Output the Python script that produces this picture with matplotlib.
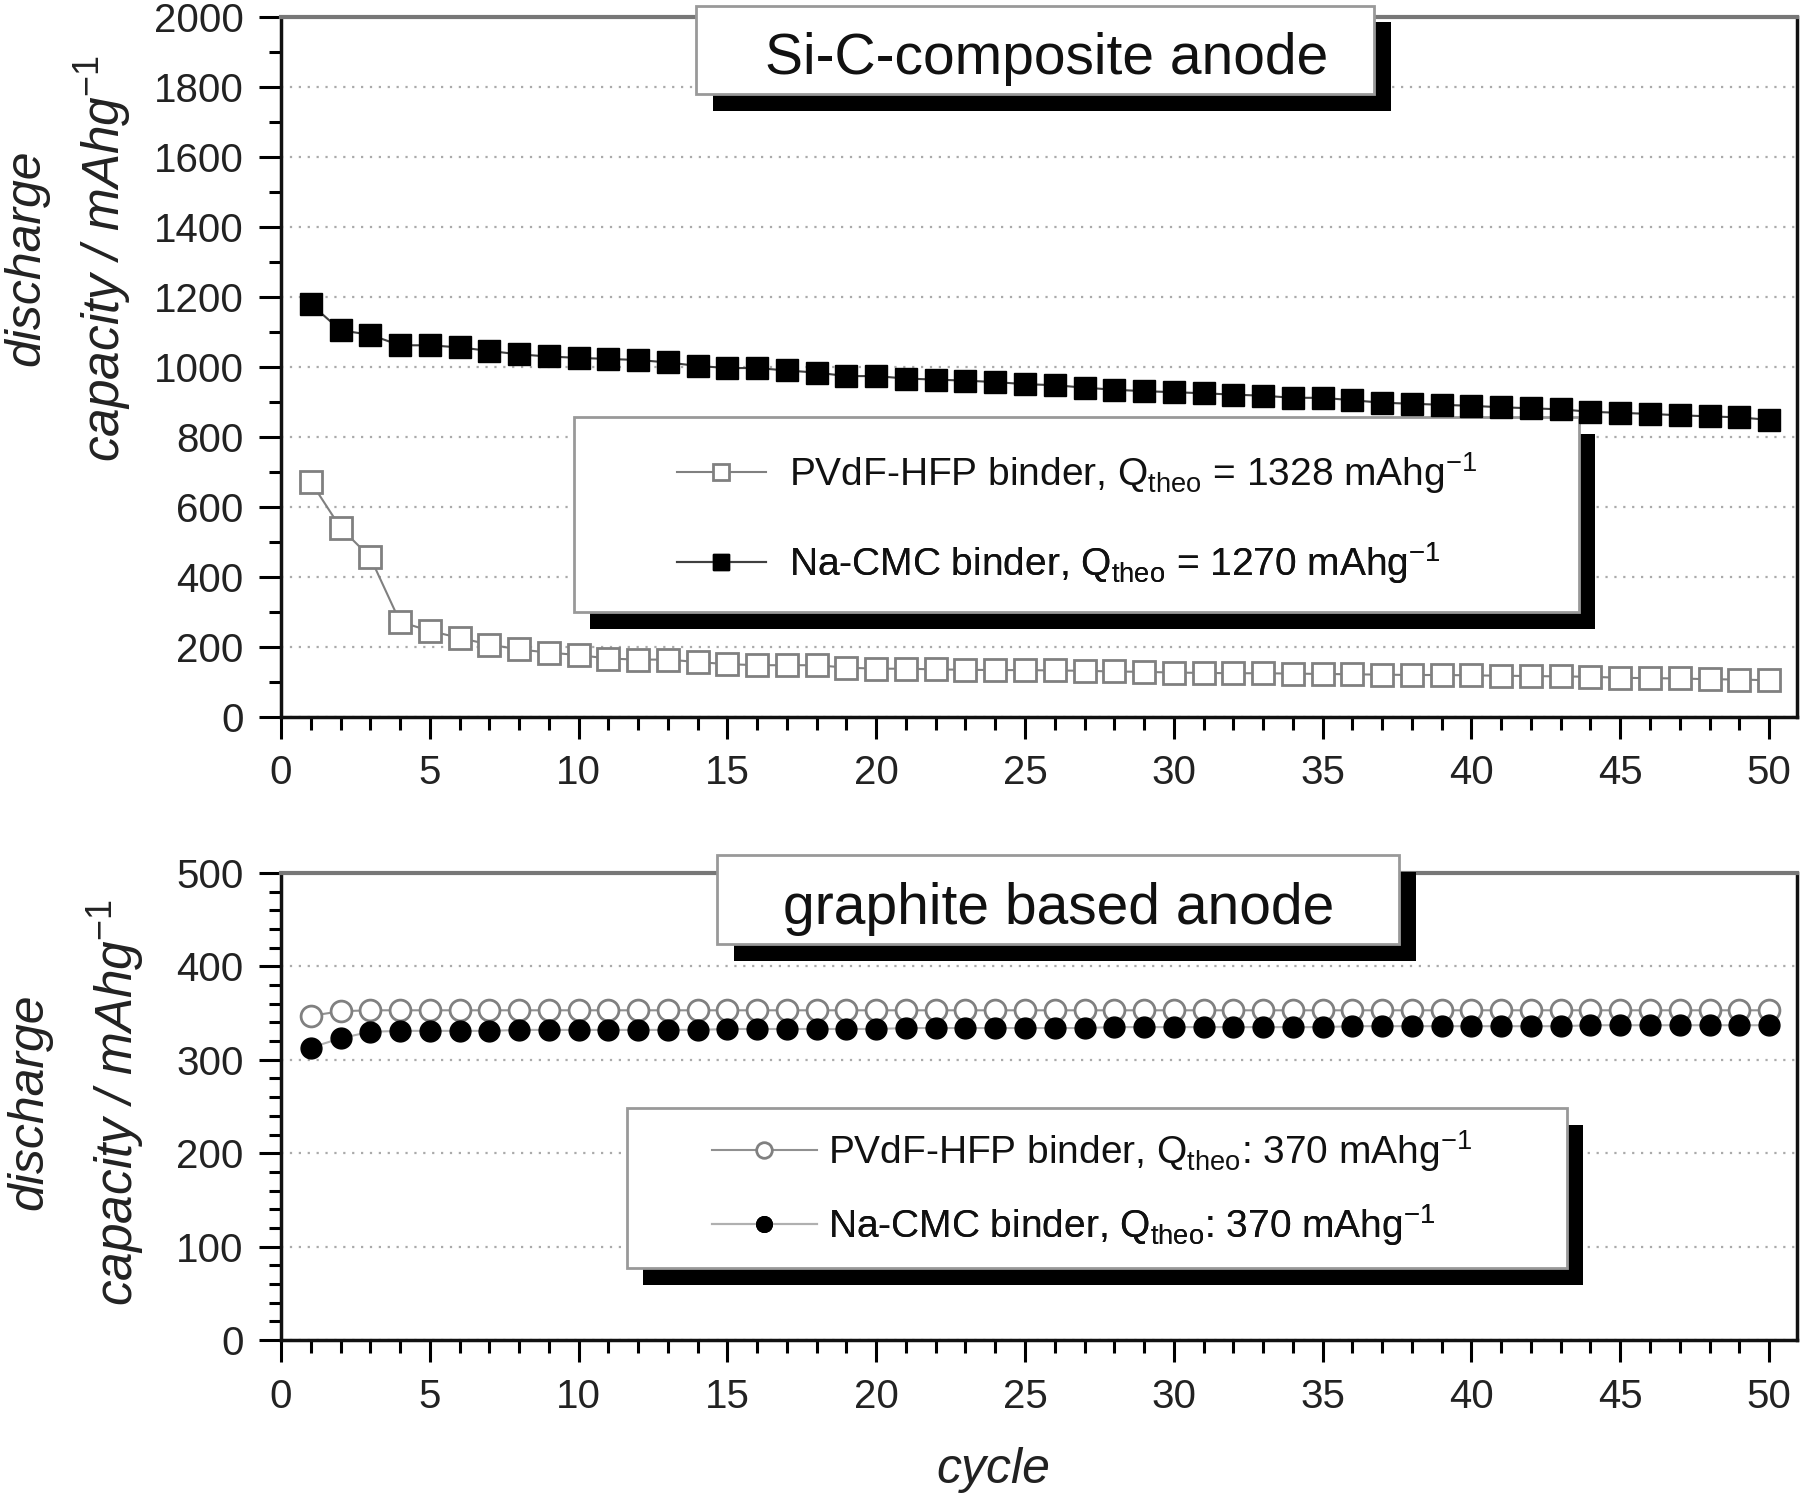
import matplotlib
matplotlib.use("Agg")
import matplotlib.pyplot as plt
from matplotlib.patches import Rectangle
from matplotlib.ticker import MultipleLocator
import matplotlib.patheffects as pe

plt.rcParams['font.family'] = ['Liberation Sans', 'DejaVu Sans']
plt.rcParams['mathtext.fontset'] = 'custom'
plt.rcParams['mathtext.rm'] = 'Liberation Sans'
plt.rcParams['mathtext.it'] = 'Liberation Sans:italic'

# ---------------- data ----------------
cycles = list(range(1, 51))

si_pvdf = [672, 541, 456, 272, 246, 226, 207, 193, 184, 177,
           167, 164, 164, 157, 151, 148, 148, 148, 141, 138,
           138, 136, 135, 134, 134, 133, 132, 130, 129, 127,
           126, 125, 125, 124, 123, 122, 121, 120, 120, 119,
           118, 117, 116, 115, 112, 111, 110, 108, 107, 105]
si_cmc = [1180, 1105, 1092, 1062, 1062, 1056, 1046, 1036, 1030, 1026,
          1023, 1020, 1013, 1003, 997, 997, 990, 984, 974, 974,
          967, 964, 961, 957, 951, 948, 941, 935, 931, 928,
          925, 921, 918, 912, 912, 905, 898, 895, 892, 889,
          885, 882, 879, 872, 869, 866, 862, 859, 856, 849]

gr_pvdf = [347, 352, 353, 353, 353, 353, 353, 353, 353, 353,
           353, 353, 353, 353, 353, 353, 353, 353, 353, 353,
           353, 353, 353, 353, 353, 353, 353, 353, 353, 353,
           353, 353, 353, 353, 353, 353, 353, 353, 353, 353,
           353, 353, 353, 353, 353, 353, 353, 353, 353, 353]
gr_cmc = [313, 323, 330, 331, 331, 331, 331, 332, 332, 332,
          332, 332, 332, 332, 333, 333, 333, 333, 333, 333,
          334, 334, 334, 334, 334, 334, 334, 335, 335, 335,
          335, 335, 335, 335, 335, 336, 336, 336, 336, 336,
          336, 336, 336, 337, 337, 337, 337, 337, 337, 337]

top_title = "Si-C-composite anode"
bot_title = "graphite based anode"
top_labels = [r"PVdF-HFP binder, Q$_{\mathrm{theo}}$ = 1328 mAhg$^{\mathrm{-1}}$",
              r"Na-CMC binder, Q$_{\mathrm{theo}}$ = 1270 mAhg$^{\mathrm{-1}}$"]
bot_labels = [r"PVdF-HFP binder, Q$_{\mathrm{theo}}$: 370 mAhg$^{\mathrm{-1}}$",
              r"Na-CMC binder, Q$_{\mathrm{theo}}$: 370 mAhg$^{\mathrm{-1}}$"]

W, H = 1800, 1495
fig = plt.figure(figsize=(W / 100, H / 100), dpi=100)
ax1 = fig.add_axes([281 / W, 1 - 717 / H, 1516 / W, 700 / H])
ax2 = fig.add_axes([281 / W, 1 - 1340 / H, 1516 / W, 467 / H])

GRAY = '#808080'
shadow = [pe.SimplePatchShadow(offset=(12, -12), shadow_rgbFace='black', alpha=1.0), pe.Normal()]


def style_axis(ax, ymax, ymaj, ymin):
    ax.set_xlim(0, 50.94)
    ax.set_ylim(0, ymax)
    ax.xaxis.set_major_locator(MultipleLocator(5))
    ax.xaxis.set_minor_locator(MultipleLocator(1))
    ax.yaxis.set_major_locator(MultipleLocator(ymaj))
    ax.yaxis.set_minor_locator(MultipleLocator(ymin))
    ax.tick_params(which='major', direction='out', length=16, width=2.2, pad=11,
                   labelsize=29, labelcolor='#222222', top=False, right=False)
    ax.tick_params(which='minor', direction='out', length=9, width=2.2, top=False, right=False)
    for s in ['left', 'bottom', 'right']:
        ax.spines[s].set_linewidth(2.5)
        ax.spines[s].set_color('#111111')
    ax.spines['top'].set_linewidth(3)
    ax.spines['top'].set_color('#777777')
    ax.set_axisbelow(True)
    ax.yaxis.grid(True, which='major', linestyle=(0, (1, 3)), color='#aaaaaa', linewidth=1.6)


style_axis(ax1, 2000, 200, 100)
style_axis(ax2, 500, 100, 20)

# ---------------- top panel ----------------
l1, = ax1.plot(cycles, si_pvdf, color=GRAY, lw=1.5, marker='s', ms=15.5,
               mfc='white', mec=GRAY, mew=2, zorder=3)
l2, = ax1.plot(cycles, si_cmc, color='#404040', lw=1.5, marker='s', ms=15.5,
               mfc='black', mec='black', mew=1, zorder=4)

# title box
r = Rectangle((0.274, 0.89), 0.447, 0.126, transform=ax1.transAxes, facecolor='white',
              edgecolor='#999999', lw=2, zorder=10, clip_on=False, path_effects=shadow)
ax1.add_patch(r)
ax1.text(0.505, 0.940, top_title, transform=ax1.transAxes, ha='center', va='center',
         fontsize=41, color='#111111', zorder=11)

# legend box
r = Rectangle((0.193, 0.15), 0.663, 0.2786, transform=ax1.transAxes, facecolor='white',
              edgecolor='#999999', lw=2, zorder=2, clip_on=False, path_effects=shadow)
ax1.add_patch(r)
for h, lab, yy in zip([l1, l2], top_labels, [0.349, 0.22]):
    leg = ax1.legend(handles=[h], labels=[lab], loc='center left', bbox_to_anchor=(0.261, yy),
                     frameon=False, borderpad=0, borderaxespad=0, handlelength=2.3,
                     handletextpad=0.6, fontsize=28, markerscale=0.75)
    leg.set_zorder(6)
    for t in leg.get_texts():
        t.set_color('#111111')
    ax1.add_artist(leg)

# ---------------- bottom panel ----------------
l3, = ax2.plot(cycles, gr_pvdf, color='#909090', lw=1.5, marker='o', ms=15,
               mfc='white', mec=GRAY, mew=2, zorder=3)
l4, = ax2.plot(cycles, gr_cmc, color='#b0b0b0', lw=1.5, marker='o', ms=15,
               mfc='black', mec='black', mew=1, zorder=4)

r = Rectangle((0.2876, 0.848), 0.4499, 0.1905, transform=ax2.transAxes, facecolor='white',
              edgecolor='#999999', lw=2, zorder=10, clip_on=False, path_effects=shadow)
ax2.add_patch(r)
ax2.text(0.513, 0.922, bot_title, transform=ax2.transAxes, ha='center', va='center',
         fontsize=41, color='#111111', zorder=11)

r = Rectangle((0.228, 0.154), 0.62, 0.343, transform=ax2.transAxes, facecolor='white',
              edgecolor='#999999', lw=2, zorder=2, clip_on=False, path_effects=shadow)
ax2.add_patch(r)
for h, lab, yy in zip([l3, l4], bot_labels, [0.405, 0.246]):
    leg = ax2.legend(handles=[h], labels=[lab], loc='center left', bbox_to_anchor=(0.284, yy),
                     frameon=False, borderpad=0, borderaxespad=0, handlelength=2.7,
                     handletextpad=0.3, fontsize=28, markerscale=0.75)
    leg.set_zorder(6)
    for t in leg.get_texts():
        t.set_color('#111111')
    ax2.add_artist(leg)

# ---------------- axis labels ----------------
for (x1, x2, yc) in [(26, 103, 258), (29, 116, 1102)]:
    fig.text(x1 / W, 1 - yc / H, "discharge", rotation=90, ha='center', va='center',
             fontsize=36, fontstyle='italic', color='#222222')
    fig.text(x2 / W, 1 - yc / H, r"capacity / mAhg$^{\mathrm{-1}}$", rotation=90,
             ha='center', va='center', fontsize=37, fontstyle='italic', color='#222222')

fig.text(993 / W, 1 - 1470 / H, "cycle", ha='center', va='center', fontsize=36,
         fontstyle='italic', color='#222222')

fig.savefig("out.png", dpi=100)
